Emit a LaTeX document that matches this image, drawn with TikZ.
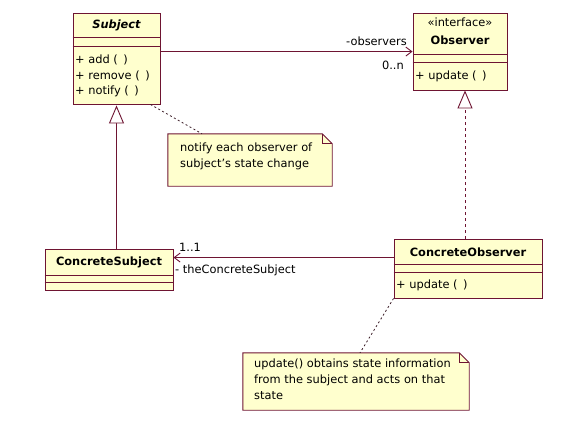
\documentclass[tikz,border=0pt]{standalone}
\usepackage{fontspec}
\setmainfont{DejaVu Sans}
\usetikzlibrary{arrows.meta}
\definecolor{umlfill}{RGB}{255,255,206}
\definecolor{umlline}{RGB}{110,20,50}
\definecolor{noteln}{RGB}{60,30,40}
\tikzset{
  cls/.style={draw=umlline, fill=umlfill, line width=0.9pt, inner sep=0pt, rectangle},
  clsline/.style={draw=umlline, line width=0.9pt},
  txt/.style={inner sep=0pt, font=\fontsize{11.4}{13}\selectfont, text=black},
  ttl/.style={txt, font=\fontsize{11.4}{13}\selectfont\bfseries},
  notebox/.style={draw=none, fill=none, inner sep=0pt, rectangle},
  noteline/.style={draw=umlline, fill=umlfill, line width=0.9pt},
  assoc/.style={draw=umlline, line width=0.9pt, -{Straight Barb[length=6pt,width=9pt]}},
  gen/.style={draw=umlline, line width=0.9pt, -{Triangle[open, length=18pt, width=15pt, fill=white]}},
  anchorline/.style={draw=noteln, line width=0.8pt, dash pattern=on 2pt off 2.5pt},
}
\begin{document}
\begin{tikzpicture}[x=1pt, y=-1pt]
\useasboundingbox (0,0) rectangle (561,428);

% Subject
\node[cls, minimum width=87pt, minimum height=91pt] (subj) at (116.5,58.5) {};
\draw[clsline] ([yshift=-25pt]subj.north west) -- ([yshift=-25pt]subj.north east);
\draw[clsline] ([yshift=-34pt]subj.north west) -- ([yshift=-34pt]subj.north east);
\node[ttl, font=\fontsize{11.4}{13}\selectfont\bfseries\itshape] (subjname) at (116.5,25) {Subject};
\node[txt, anchor=west] (sm1) at (75,60) {+ add ( \,)};
\node[txt, anchor=west] (sm2) at (75,75.5) {+ remove ( \,)};
\node[txt, anchor=west] (sm3) at (75,91) {+ notify ( \,)};

% Observer
\node[cls, minimum width=94pt, minimum height=77pt] (obs) at (460,51.5) {};
\draw[clsline] ([yshift=-42pt]obs.north west) -- ([yshift=-42pt]obs.north east);
\draw[clsline] ([yshift=-50pt]obs.north west) -- ([yshift=-50pt]obs.north east);
\node[txt] (obsst) at (460,22.5) {«interface»};
\node[ttl] (obsname) at (460,40) {Observer};
\node[txt, anchor=west] (om1) at (415,76.5) {+ update ( \,)};

% ConcreteSubject
\node[cls, minimum width=128pt, minimum height=41pt] (csub) at (109,269.5) {};
\draw[clsline] ([yshift=-27pt]csub.north west) -- ([yshift=-27pt]csub.north east);
\draw[clsline] ([yshift=-34pt]csub.north west) -- ([yshift=-34pt]csub.north east);
\node[ttl] (csubname) at (109,262) {ConcreteSubject};

% ConcreteObserver
\node[cls, minimum width=148pt, minimum height=59pt] (cobs) at (468,268.5) {};
\draw[clsline] ([yshift=-26pt]cobs.north west) -- ([yshift=-26pt]cobs.north east);
\draw[clsline] ([yshift=-34pt]cobs.north west) -- ([yshift=-34pt]cobs.north east);
\node[ttl] (cobsname) at (468,252) {ConcreteObserver};
\node[txt, anchor=west] (com1) at (396,285.5) {+ update ( \,)};

% Association Subject -> Observer
\coordinate (a1) at ([yshift=-39pt]subj.north east);
\draw[assoc] (a1) -- (obs.west |- a1);
\node[txt, anchor=east] (lobs) at (407,41) {-observers};
\node[txt, anchor=east] (lon) at (404,65) {0..n};

% Association ConcreteObserver -> ConcreteSubject
\coordinate (a2) at ([yshift=-19pt]cobs.north west);
\draw[assoc] (a2) -- (csub.east |- a2);
\node[txt, anchor=west] (l11) at (179,247) {1..1};
\node[txt, anchor=west] (lcs) at (175,270) {- theConcreteSubject};

% Generalizations
\coordinate (g1) at (csub.north -| subj.south);
\draw[gen] (g1) -- ([yshift=-1pt]subj.south);
\coordinate (g2) at (465,239);
\draw[gen, dash pattern=on 3pt off 3pt] (g2) -- (g2 |- obs.south);

% Note 1
\node[notebox, minimum width=164pt, minimum height=52pt] (n1) at (250,160) {};
\draw[noteline] (n1.south west) -- (n1.north west) -- ([xshift=-10pt]n1.north east) -- ([yshift=-10pt]n1.north east) -- (n1.south east) -- cycle;
\draw[clsline] ([xshift=-10pt]n1.north east) -- ([xshift=-10pt,yshift=-10pt]n1.north east) -- ([yshift=-10pt]n1.north east);
\node[txt, anchor=north west, align=left, font=\fontsize{11.4}{16}\selectfont] (n1t) at (180,143) {notify each observer of\\subject's state change};
\draw[anchorline] ([xshift=-10pt]subj.south east) -- ([xshift=-48pt]n1.north);

% Note 2
\node[notebox, minimum width=226pt, minimum height=57pt] (n2) at (356,381.5) {};
\draw[noteline] (n2.south west) -- (n2.north west) -- ([xshift=-10pt]n2.north east) -- ([yshift=-10pt]n2.north east) -- (n2.south east) -- cycle;
\draw[clsline] ([xshift=-10pt]n2.north east) -- ([xshift=-10pt,yshift=-10pt]n2.north east) -- ([yshift=-10pt]n2.north east);
\node[txt, anchor=north west, align=left, font=\fontsize{11.4}{16}\selectfont] (n2t) at (254,359) {update() obtains state information\\from the subject and acts on that\\state};
\draw[anchorline] (cobs.south west) -- ([xshift=4pt]n2.north);
\end{tikzpicture}
\end{document}
